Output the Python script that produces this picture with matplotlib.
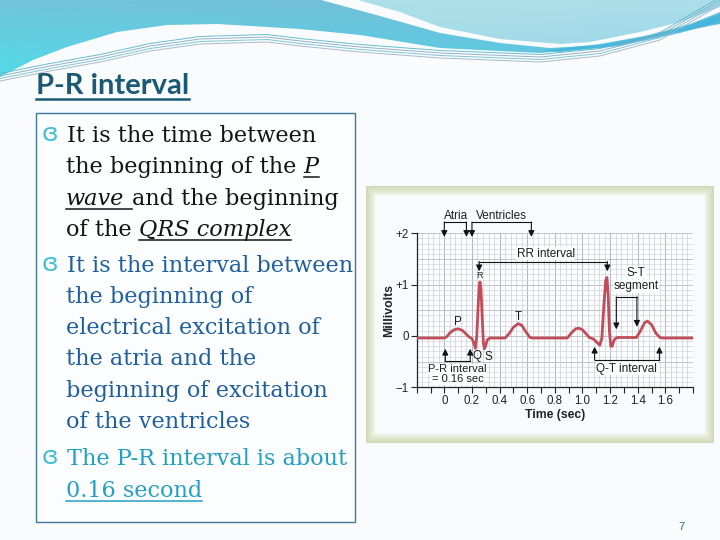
import numpy as np
import matplotlib
matplotlib.use('Agg')
import matplotlib.pyplot as plt
from matplotlib.patches import Polygon, Rectangle
from matplotlib.colors import to_rgb

# ECG trace (time in sec, millivolts)
ecg_t = [-0.2, 0.0, 0.02, 0.04, 0.07, 0.10, 0.13, 0.16, 0.18, 0.20,
         0.215, 0.225, 0.235, 0.245, 0.252, 0.258, 0.265, 0.275, 0.283, 0.29, 0.298, 0.31, 0.33,
         0.44, 0.47, 0.50, 0.535, 0.56, 0.59, 0.62, 0.64,
         0.89, 0.92, 0.95, 0.975, 1.0, 1.03, 1.05, 1.08,
         1.11, 1.125, 1.14, 1.155, 1.168, 1.177, 1.186, 1.195, 1.205, 1.215, 1.23, 1.25,
         1.39, 1.42, 1.45, 1.47, 1.50, 1.53, 1.56, 1.58, 1.8]
ecg_mv = [-0.04, -0.04, -0.01, 0.06, 0.12, 0.14, 0.11, 0.03, -0.02, -0.05,
          -0.15, -0.24, 0.0, 0.6, 0.95, 1.05, 0.92, 0.3, -0.15, -0.25, -0.2, -0.08, -0.04,
          -0.04, 0.05, 0.17, 0.24, 0.21, 0.08, -0.03, -0.04,
          -0.04, 0.06, 0.14, 0.15, 0.12, 0.03, -0.03, -0.06,
          -0.14, -0.18, -0.05, 0.6, 1.08, 1.14, 0.8, 0.1, -0.2, -0.2, -0.07, -0.03,
          -0.03, 0.1, 0.26, 0.29, 0.22, 0.06, -0.03, -0.04, -0.04]

x_ticks = [0, 0.2, 0.4, 0.6, 0.8, 1.0, 1.2, 1.4, 1.6]
x_ticklabels = ['0', '0.2', '0.4', '0.6', '0.8', '1.0', '1.2', '1.4', '1.6']
y_ticks = [-1, 0, 1, 2]
y_ticklabels = ['\u22121', '0', '+1', '+2']

# brackets: (x start, x end, bracket level, arrow tip level)
atria = (0.0, 0.16, 2.22, 1.93)
ventricles = (0.2, 0.63, 2.22, 1.93)
rr = (0.252, 1.18, 1.45, 1.26)
st = (1.245, 1.394, 0.76, 0.15)
pr = (0.007, 0.187, -0.49, -0.25)
qt = (1.088, 1.557, -0.47, -0.21)

ecg_labels = [('Atria', 0.085, 2.34, 8.5), ('Ventricles', 0.41, 2.34, 8.5),
              ('RR interval', 0.735, 1.60, 8.5), ('R', 0.255, 1.17, 6.5),
              ('P', 0.10, 0.27, 8.5), ('T', 0.535, 0.37, 8.5),
              ('Q', 0.24, -0.40, 8.5), ('S', 0.322, -0.40, 8.5),
              ('P-R interval', 0.096, -0.65, 8), ('= 0.16 sec', 0.10, -0.84, 8),
              ('Q-T interval', 1.32, -0.64, 8.5),
              ('S-T', 1.389, 1.23, 8.5), ('segment', 1.389, 0.97, 8.5)]

# slide text lines: (baseline y, bullet?, colour, pieces[(text, italic, underline)])
black = '#141414'
blue = '#1f5f9e'
teal = '#22a0c4'
lines = [
    (142, True, black, [('It is the time between', False, False)]),
    (173, False, black, [('the beginning of the ', False, False), ('P', True, True)]),
    (205, False, black, [('wave ', True, True), ('and the beginning', False, False)]),
    (236, False, black, [('of the ', False, False), ('QRS complex', True, True)]),
    (272, True, blue, [('It is the interval between', False, False)]),
    (303, False, blue, [('the beginning of', False, False)]),
    (334, False, blue, [('electrical excitation of', False, False)]),
    (365, False, blue, [('the atria and the', False, False)]),
    (397, False, blue, [('beginning of excitation', False, False)]),
    (428, False, blue, [('of the ventricles', False, False)]),
    (465, True, teal, [('The P-R interval is about', False, False)]),
    (497, False, teal, [('0.16 second', False, True)]),
]

fig = plt.figure(figsize=(7.2, 5.4), dpi=100)
fig.patch.set_facecolor('#fafbfc')
bg = fig.add_axes([0, 0, 1, 1])
bg.set_xlim(0, 720)
bg.set_ylim(540, 0)
bg.axis('off')


def grad_fill(poly_pts, c_left, c_right, c_top=None, z=1):
    # fill a polygon with a horizontal (and optional vertical) colour blend
    poly = Polygon(poly_pts, closed=True, facecolor='none', edgecolor='none')
    bg.add_patch(poly)
    n = 200
    a = np.linspace(0, 1, n)
    cl = np.array(to_rgb(c_left))
    cr = np.array(to_rgb(c_right))
    img = cl[None, :] * (1 - a[:, None]) + cr[None, :] * a[:, None]
    img = np.repeat(img[None, :, :], 60, axis=0)
    if c_top is not None:
        ct = np.array(to_rgb(c_top))
        b = np.linspace(1, 0, 60)[:, None, None] * 0.6
        img = img * (1 - b) + ct[None, None, :] * b
    xs = [p[0] for p in poly_pts]
    ys = [p[1] for p in poly_pts]
    im = bg.imshow(img, extent=(min(xs), max(xs), max(ys), min(ys)), aspect='auto', zorder=z)
    im.set_clip_path(poly)


# top decoration
left_region = [(0, 0), (321, 0), (380, 16), (440, 33), (500, 43), (550, 48), (600, 45),
               (650, 36), (690, 25), (720, 14), (720, 24), (673, 33), (607, 47), (540, 53),
               (440, 48), (360, 35), (300, 29), (267, 27), (217, 24), (167, 25), (117, 32),
               (67, 47), (33, 60), (0, 77)]
grad_fill(left_region, '#52dbe8', '#58c6e2', c_top='#86b4d2', z=1)
right_region = [(358, 0), (720, 0), (720, 7), (680, 22), (640, 32), (590, 42), (560, 44),
                (500, 39), (440, 27), (400, 12)]
grad_fill(right_region, '#a6dde6', '#9fd8ea', c_top='#b2e2ea', z=2)
dark_band = [(540, 51), (600, 44), (650, 35), (690, 24), (720, 12), (720, 22), (680, 33),
             (620, 46), (560, 52)]
bg.add_patch(Polygon(dark_band, closed=True, facecolor='#3fb4da', edgecolor='none', alpha=0.8, zorder=3))

thin_x = [0, 50, 100, 150, 200, 267, 300, 360, 440, 540, 600, 660, 720]
thin_y = [76, 66, 57, 46, 39, 37, 41, 47, 53, 57, 51, 35, 0]
for dy, col in [(0, '#8aa8c0'), (2.5, '#6fc2d0'), (5, '#a0b4c4'), (-2.5, '#58b8cc')]:
    bg.plot(thin_x, [v + dy for v in thin_y], color=col, lw=0.7, zorder=4, alpha=0.9)

# title
title = bg.text(36, 94, 'P-R interval', fontsize=21, fontweight='bold', family='Lato',
                color='#1b5a74', va='baseline')
fig.canvas.draw()
renderer = fig.canvas.get_renderer()
bb = title.get_window_extent(renderer=renderer)
bg.plot([36, 36 + bb.width], [99, 99], color='#1b5a74', lw=1.8)

# text box
bg.add_patch(Rectangle((36, 113), 319, 409, facecolor='#fcfdfe', edgecolor='#3d7898', lw=1.0, zorder=1))

serif = ['DejaVu Serif']
fsz = 16.1


def text_width(s, **kw):
    t = bg.text(0, 0, s, **kw)
    w = t.get_window_extent(renderer=renderer).width
    t.remove()
    return w


space_w = text_width('n n', fontsize=fsz, family=serif) - text_width('nn', fontsize=fsz, family=serif)

for y, bullet, col, pieces in lines:
    x = 66
    if bullet:
        bg.text(42, y - 1, '\u025e', fontsize=18, family=['DejaVu Sans'], color='#45bfd6', va='baseline')
        x = 67
    for s, ital, und in pieces:
        core = s.rstrip(' ')
        ntrail = len(s) - len(core)
        t = bg.text(x, y, core, fontsize=fsz, family=serif, color=col, va='baseline',
                    style='italic' if ital else 'normal')
        w = t.get_window_extent(renderer=renderer).width
        w_all = w + ntrail * space_w
        if und:
            bg.plot([x, x + w_all], [y + 3.5, y + 3.5], color=col, lw=1.1)
        x += w_all

# picture frame with bevel
outer = (366, 186, 714, 443)
steps = 9
c0 = np.array(to_rgb('#cfd9b6'))
c1 = np.array(to_rgb('#eef2e4'))
for i in range(steps):
    f = i / (steps - 1)
    c = c0 * (1 - f) + c1 * f
    x0, y0, x1, y1 = outer[0] + i, outer[1] + i, outer[2] - i, outer[3] - i
    bg.add_patch(Rectangle((x0, y0), x1 - x0, y1 - y0, facecolor=c, edgecolor='none', zorder=2))
bg.add_patch(Rectangle((375, 195), 330, 239, facecolor='#f7fbfd', edgecolor='none', zorder=2))

# page number
bg.text(681, 530, '7', fontsize=8, color='#2c6a8a', family='Liberation Sans', ha='center', va='baseline')

# ECG chart
ax = fig.add_axes([416.7 / 720, 1 - 387.3 / 540, 276.3 / 720, 154 / 540])
ax.set_facecolor('#fbfdfe')
ax.set_xlim(-0.2, 1.8)
ax.set_ylim(-1, 2)
for gx in np.arange(-0.2, 1.801, 0.04):
    major = abs(gx / 0.2 - round(gx / 0.2)) < 1e-6
    ax.axvline(gx, color='#b0b5be' if major else '#d0d3db', lw=0.7 if major else 0.55, zorder=0)
for gy in np.arange(-1, 2.001, 0.1):
    major = abs(gy / 0.5 - round(gy / 0.5)) < 1e-6
    ax.axhline(gy, color='#b8bcc4' if major else '#d3d6dd', lw=0.6 if major else 0.5, zorder=0)

ax.plot(ecg_t, ecg_mv, color='#c24c58', lw=2.0, solid_joinstyle='round', solid_capstyle='round', zorder=3)

for sp in ['top', 'right']:
    ax.spines[sp].set_visible(False)
for sp in ['left', 'bottom']:
    ax.spines[sp].set_color('#222222')
    ax.spines[sp].set_linewidth(0.9)

xt = np.round(np.arange(-0.2, 1.81, 0.1), 1)
ax.set_xticks(xt)
ax.set_xticklabels([x_ticklabels[x_ticks.index(v)] if v in x_ticks else '' for v in xt])
ax.set_yticks(y_ticks)
ax.set_yticklabels(y_ticklabels)
ax.tick_params(axis='both', direction='out', length=4, width=0.8, colors='#222222',
               labelsize=8.3, pad=1.5)
for lab in ax.get_xticklabels() + ax.get_yticklabels():
    lab.set_family('Liberation Sans')
ax.set_xlabel('Time (sec)', fontsize=8.8, fontweight='bold', family='Liberation Sans', labelpad=1.5, color='#222222')
ax.set_ylabel('Millivolts', fontsize=8.8, fontweight='bold', family='Liberation Sans', labelpad=0.5, color='#222222')

arrow_kw = dict(arrowstyle='-|>', lw=0.8, color='#111111', mutation_scale=9, shrinkA=0, shrinkB=0)


def bracket(b):
    xa, xb, lvl, tip = b
    ax.plot([xa, xb], [lvl, lvl], color='#111111', lw=0.8, clip_on=False, zorder=4)
    for xx in (xa, xb):
        ax.annotate('', xy=(xx, tip), xytext=(xx, lvl), arrowprops=arrow_kw,
                    annotation_clip=False, zorder=4)


for b in (atria, ventricles, rr, pr, qt):
    bracket(b)
# S-T bracket arrows end at different heights
ax.plot([st[0], st[1]], [st[2], st[2]], color='#111111', lw=0.8, zorder=4)
ax.annotate('', xy=(st[0], 0.13), xytext=(st[0], st[2]), arrowprops=arrow_kw, zorder=4)
ax.annotate('', xy=(st[1], 0.18), xytext=(st[1], st[2]), arrowprops=arrow_kw, zorder=4)

boxed = ('P-R interval', '= 0.16 sec', 'Q-T interval', 'RR interval', 'S-T', 'segment')
for s, tx, ty, fs in ecg_labels:
    ax.text(tx, ty, s, fontsize=fs, family='Liberation Sans', color='#1e1e1e',
            ha='center', va='center', clip_on=False, zorder=5,
            bbox=dict(facecolor='#fbfdfe', edgecolor='none', pad=0.3) if s in boxed else None)

fig.savefig('out.png', dpi=100, facecolor=fig.get_facecolor())
